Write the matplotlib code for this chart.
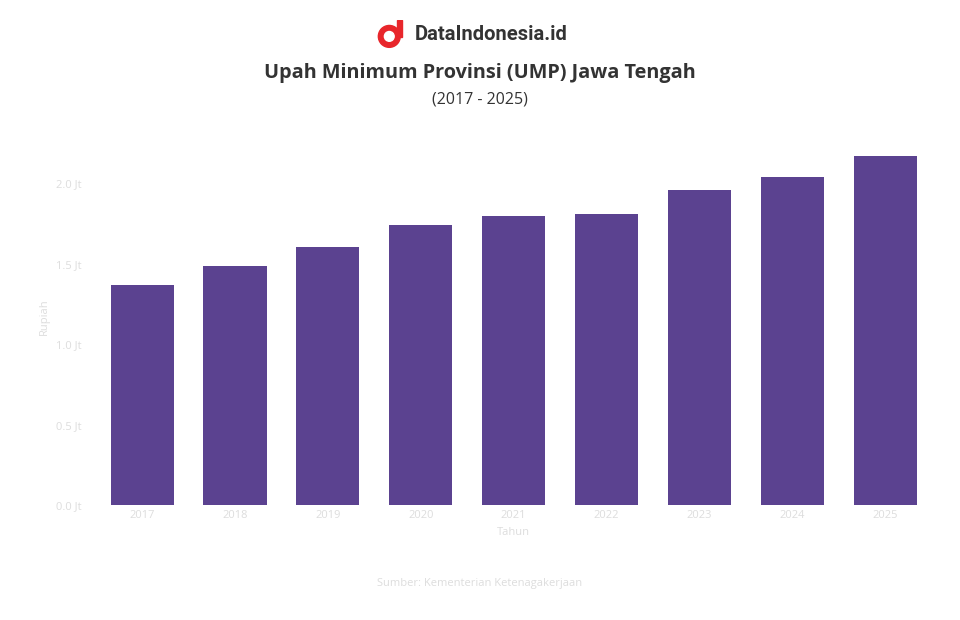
import matplotlib
matplotlib.use("Agg")
import matplotlib.pyplot as plt
from matplotlib.patches import Circle

years = ["2017", "2018", "2019", "2020", "2021", "2022", "2023", "2024", "2025"]
ump = [1367000, 1486065, 1605396, 1742015, 1798979, 1812935, 1958169, 2036947, 2169349]

plt.rcParams['font.family'] = ['Open Sans', 'DejaVu Sans']
fig = plt.figure(figsize=(9.6, 6.2), dpi=100)
fig.patch.set_facecolor('white')

ax = fig.add_axes([0.09, 0.185, 0.89, 0.61])
ax.bar(years, ump, width=0.68, color='#5b4290')
ax.set_ylim(0, 2350000)
ax.set_xlim(-0.6, 8.6)
for s in ax.spines.values():
    s.set_visible(False)
ax.tick_params(length=0, colors='#dddddd', labelsize=8)
ax.yaxis.set_major_formatter(matplotlib.ticker.FuncFormatter(lambda v, p: f"{v/1e6:.1f} Jt"))
ax.set_ylabel("Rupiah", color='#dddddd', fontsize=8)
ax.set_xlabel("Tahun", color='#dddddd', fontsize=8)

# logo
lax = fig.add_axes([0.392, 0.92, 0.03, 0.05])
lax.set_xlim(0, 1); lax.set_ylim(0, 1); lax.set_aspect('equal'); lax.axis('off')
lax.add_patch(Circle((0.45, 0.42), 0.38, color='#e8262b'))
lax.add_patch(Circle((0.45, 0.42), 0.17, color='white'))
lax.add_patch(plt.Rectangle((0.72, 0.4), 0.16, 0.6, color='#e8262b'))
fig.text(0.432, 0.944, "DataIndonesia.id", fontsize=14.5, fontweight='bold', color='#333333', va='center', family=['Roboto', 'DejaVu Sans'])
fig.text(0.5, 0.882, "Upah Minimum Provinsi (UMP) Jawa Tengah", fontsize=14.3, fontweight='bold', color='#333333', ha='center', va='center')
fig.text(0.5, 0.84, "(2017 - 2025)", fontsize=11.5, color='#333333', ha='center', va='center')
fig.text(0.5, 0.055, "Sumber: Kementerian Ketenagakerjaan", fontsize=8, color='#dddddd', ha='center')

fig.savefig("out.png", dpi=100, facecolor='white')
